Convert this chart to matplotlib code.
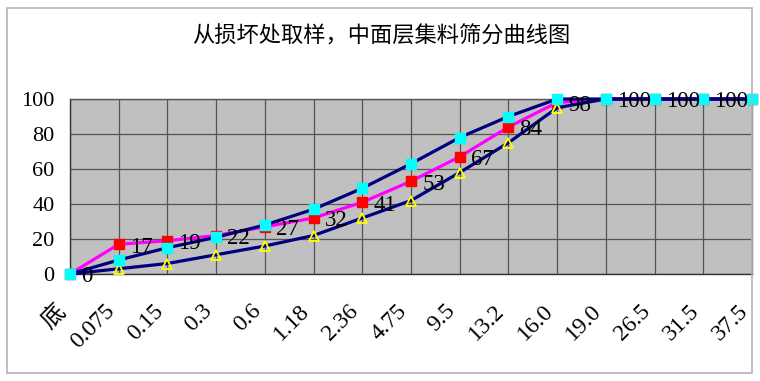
import matplotlib
matplotlib.use("Agg")
import matplotlib.pyplot as plt
from matplotlib.patches import Rectangle

categories = ['底', '0.075', '0.15', '0.3', '0.6', '1.18', '2.36', '4.75',
              '9.5', '13.2', '16.0', '19.0', '26.5', '31.5', '37.5']
actual = [0, 17, 19, 22, 27, 32, 41, 53, 67, 84, 98, 100, 100, 100, 100]
upper = [0, 8, 15, 21, 28, 37, 49, 63, 78, 90, 100, 100, 100, 100, 100]
lower = [0, 3, 6, 11, 16, 22, 32, 42, 58, 75, 95, 100, 100, 100, 100]
yticks = [0, 20, 40, 60, 80, 100]
title = '从损坏处取样，中面层集料筛分曲线图'

serif = ['Liberation Serif', 'Noto Sans CJK SC', 'DejaVu Serif']
cjk = ['Noto Sans CJK SC', 'DejaVu Sans']

fig = plt.figure(figsize=(7.6, 3.81), dpi=100)
fig.patch.set_facecolor('white')
fig.patches.append(Rectangle((7 / 760, 1 - 373 / 381), (752 - 7) / 760, (373 - 8) / 381,
                             transform=fig.transFigure, fill=False,
                             edgecolor='#b4b4b4', linewidth=1.2, zorder=0))

ax = fig.add_axes([70 / 760, 1 - 274 / 381, (752 - 70) / 760, (274 - 99) / 381])
ax.set_facecolor('#c0c0c0')
x = list(range(len(categories)))

ax.plot(x, actual, color='#ff00ff', linewidth=2.3, marker='s', markersize=6.5,
        markerfacecolor='#ff0000', markeredgecolor='#ff0000', zorder=3, clip_on=False)
ax.plot(x, lower, color='#000080', linewidth=2.3, zorder=4, clip_on=False)
ax.plot(x, lower, linestyle='none', marker='^', markersize=6.5, markerfacecolor='none',
        markeredgecolor='#ffff00', markeredgewidth=1.3, zorder=5, clip_on=False)
ax.plot(x, upper, color='#000080', linewidth=2.3, zorder=4, clip_on=False)
ax.plot(x, upper, linestyle='none', marker='s', markersize=6.5, markerfacecolor='#00ffff',
        markeredgecolor='#00ffff', zorder=6, clip_on=False)

for i, v in enumerate(actual):
    if i == len(actual) - 1:
        continue
    ax.annotate(str(v), (i, v), xytext=(8, -2), textcoords='offset points',
                ha='left', va='center', fontsize=16.5, family=serif, color='black',
                zorder=7, annotation_clip=False)

ax.set_xlim(0, len(categories) - 1)
ax.set_ylim(0, 100)
ax.set_xticks(x)
ax.set_yticks(yticks)
ax.set_yticklabels([str(t) for t in yticks], fontsize=16, family=serif)
ax.set_xticklabels(categories, fontsize=17, family=serif, rotation=45, ha='right', va='top')
ax.tick_params(axis='y', length=0, pad=11)
ax.tick_params(axis='x', length=0, pad=19)
ax.grid(True, color='#555555', linewidth=0.9)
ax.set_axisbelow(True)
for s in ax.spines.values():
    s.set_color('#555555')
    s.set_linewidth(1.0)
ax.spines['left'].set_color('#333333')
ax.spines['bottom'].set_color('#333333')

fig.text(381 / 760, 1 - 36 / 381, title, ha='center', va='center', fontsize=16,
         family=cjk, color='black')

fig.savefig('out.png', dpi=100, facecolor='white')
